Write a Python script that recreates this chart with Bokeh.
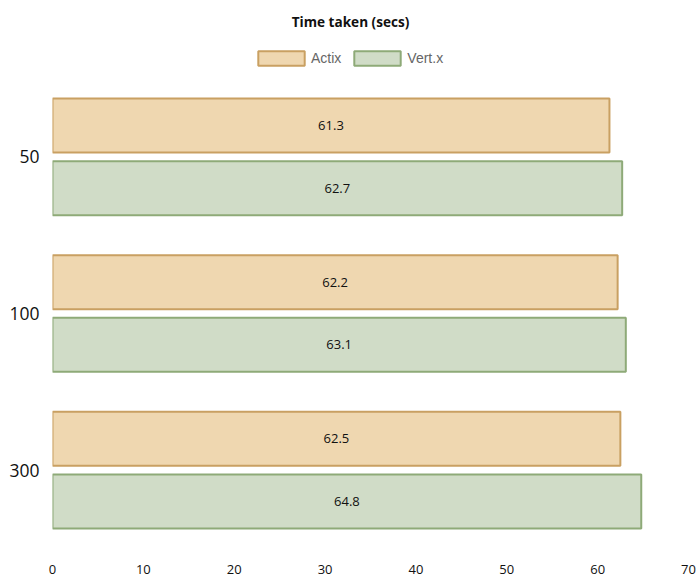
from bokeh.plotting import figure
from bokeh.layouts import column
from bokeh.models import (FactorRange, ColumnDataSource, Legend, LegendItem, FixedTicker,
                          Range1d, Label)
from bokeh.transform import dodge
from bokeh.embed import file_html
from bokeh.resources import INLINE

categories = ["50", "100", "300"]
actix = [61.3, 62.2, 62.5]
vertx = [62.7, 63.1, 64.8]
series_names = ["Actix", "Vert.x"]
x_ticks = [0, 10, 20, 30, 40, 50, 60, 70]
title_text = "Time taken (secs)"

ACTIX_FILL, ACTIX_LINE = "#EFD7B0", "#C9A062"
VERTX_FILL, VERTX_LINE = "#D0DCC7", "#8EAA78"

src = ColumnDataSource(dict(
    cat=categories,
    actix=actix,
    vertx=vertx,
    actix_mid=[v / 2 for v in actix],
    vertx_mid=[v / 2 for v in vertx],
    actix_lbl=[f"{v:.1f}" for v in actix],
    vertx_lbl=[f"{v:.1f}" for v in vertx],
))

W = 698

# ---- header: title + legend (its frame is aligned with the chart's frame by the column) ----
head = figure(width=W, height=78,
              y_range=FactorRange(*reversed(categories)), x_range=Range1d(0, 70),
              x_axis_location=None, y_axis_location=None, title_location=None,
              output_backend="svg", toolbar_location=None,
              min_border_left=0, min_border_right=0, min_border_bottom=0,
              min_border_top=0)
head.grid.visible = False
head.outline_line_color = None

head.add_layout(Label(x=298, y=57.5, x_units="screen", y_units="screen",
                      text=title_text, text_align="center", text_baseline="middle",
                      text_font="Open Sans", text_font_size="13.6px",
                      text_font_style="bold", text_color="#111111"))

# legend keys (same series, renderers hidden: only their legend swatches show)
k1 = head.hbar(y="cat", left=0, right="actix", height=0.3, source=src, visible=False,
               fill_color=ACTIX_FILL, line_color=ACTIX_LINE, line_width=2)
k2 = head.hbar(y="cat", left=0, right="vertx", height=0.3, source=src, visible=False,
               fill_color=VERTX_FILL, line_color=VERTX_LINE, line_width=2)
legend = Legend(items=[LegendItem(label=series_names[0], renderers=[k1]),
                       LegendItem(label=series_names[1], renderers=[k2])],
                orientation="horizontal", location=(200, 11),
                glyph_width=58, glyph_height=18, label_height=18,
                label_text_font="Liberation Sans", label_text_font_size="14px",
                label_text_color="#666666", label_standoff=1, spacing=7,
                padding=0, margin=0, border_line_color=None,
                background_fill_alpha=0)
head.add_layout(legend, "center")

# ---- main bar chart ----
p = figure(width=W, height=502,
           y_range=FactorRange(*reversed(categories)),
           x_range=Range1d(0, 70),
           output_backend="svg", toolbar_location=None,
           min_border_left=52, min_border_right=10,
           min_border_bottom=32, min_border_top=0)

off = 0.2
h = 0.345
r1 = p.hbar(y=dodge("cat", off, range=p.y_range), left=0, right="actix", height=h,
            source=src, fill_color=ACTIX_FILL, line_color=ACTIX_LINE, line_width=2)
r2 = p.hbar(y=dodge("cat", -off, range=p.y_range), left=0, right="vertx", height=h,
            source=src, fill_color=VERTX_FILL, line_color=VERTX_LINE, line_width=2)

for col, lbl, o in (("actix_mid", "actix_lbl", off), ("vertx_mid", "vertx_lbl", -off)):
    p.text(x=col, y=dodge("cat", o, range=p.y_range), text=lbl, source=src,
           text_align="center", text_baseline="middle",
           text_font_size="13px", text_color="#111111", text_font={"value": "Open Sans"})

p.xgrid.visible = False
p.ygrid.visible = False
p.outline_line_color = None
for ax in (p.xaxis[0], p.yaxis[0]):
    ax.axis_line_color = None
    ax.major_tick_line_color = None
    ax.minor_tick_line_color = None
    ax.major_label_text_font = "Open Sans"
    ax.major_label_text_color = "#111111"

p.xaxis.ticker = FixedTicker(ticks=x_ticks)
p.xaxis.major_label_text_font_size = "13px"
p.xaxis.major_label_standoff = 10
p.yaxis.major_label_text_font_size = "17.5px"
p.yaxis.major_label_standoff = 7

layout = column(head, p, spacing=0)
open("out.html", "w").write(file_html(layout, INLINE))
